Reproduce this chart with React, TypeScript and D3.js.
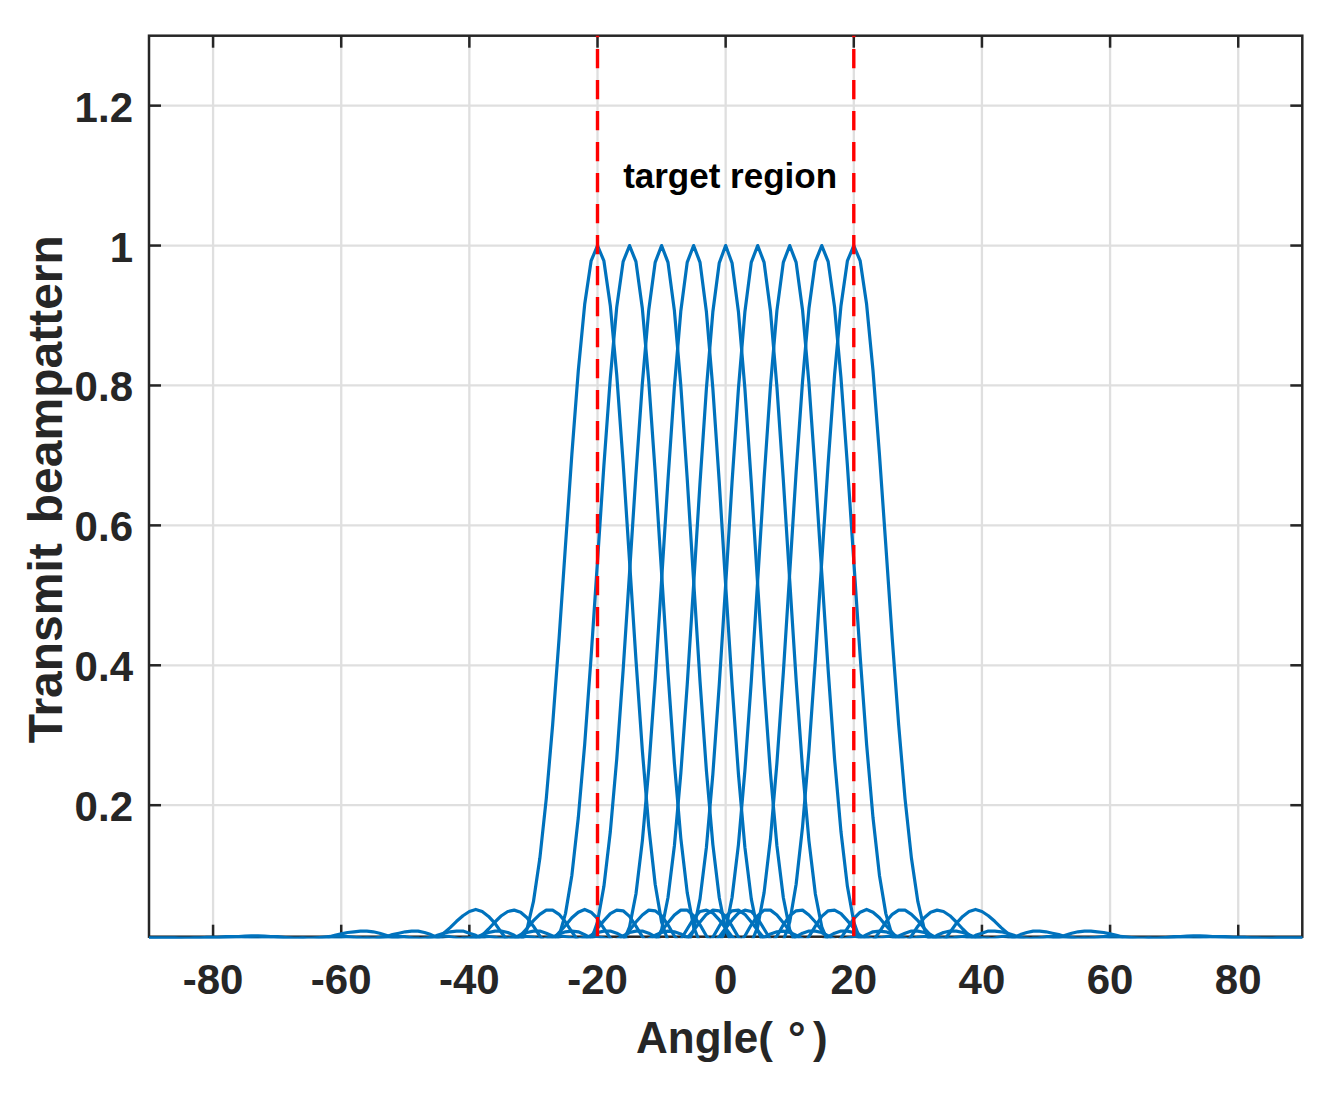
import React from "react";
import * as d3 from "d3";

// Angle grid of the sampled beampatterns (degrees)
const angles: number[] = d3.range(-90, 91, 1);

// Beam steering directions of the plotted beams
const steering = [-20, -15, -10, -5, 0, 5, 10, 15, 20];

// Beampattern values (angles -90..90) for the beams steered to 0, 5, 10, 15, 20 degrees.
const beam0 = [
  0.000, 0.000, 0.000, 0.000, 0.000, 0.000, 0.000, 0.000, 0.000, 0.000, 0.001, 0.001, 0.001, 0.002, 0.002, 0.003,
  0.003, 0.004, 0.005, 0.006, 0.007, 0.008, 0.008, 0.009, 0.010, 0.010, 0.010, 0.010, 0.010, 0.009, 0.008, 0.006,
  0.005, 0.003, 0.002, 0.001, 0.000, 0.000, 0.000, 0.001, 0.003, 0.005, 0.007, 0.009, 0.011, 0.012, 0.013, 0.012,
  0.010, 0.008, 0.005, 0.003, 0.001, 0.000, 0.001, 0.003, 0.006, 0.010, 0.015, 0.018, 0.020, 0.020, 0.017, 0.013,
  0.008, 0.003, 0.000, 0.001, 0.005, 0.013, 0.024, 0.035, 0.045, 0.050, 0.049, 0.041, 0.027, 0.012, 0.001, 0.002,
  0.022, 0.068, 0.142, 0.245, 0.372, 0.515, 0.661, 0.796, 0.905, 0.975, 1.000, 0.975, 0.905, 0.796, 0.661, 0.515,
  0.372, 0.245, 0.142, 0.068, 0.022, 0.002, 0.001, 0.012, 0.027, 0.041, 0.049, 0.050, 0.045, 0.035, 0.024, 0.013,
  0.005, 0.001, 0.000, 0.003, 0.008, 0.013, 0.017, 0.020, 0.020, 0.018, 0.015, 0.010, 0.006, 0.003, 0.001, 0.000,
  0.001, 0.003, 0.005, 0.008, 0.010, 0.012, 0.013, 0.012, 0.011, 0.009, 0.007, 0.005, 0.003, 0.001, 0.000, 0.000,
  0.000, 0.001, 0.002, 0.003, 0.005, 0.006, 0.008, 0.009, 0.010, 0.010, 0.010, 0.010, 0.010, 0.009, 0.008, 0.008,
  0.007, 0.006, 0.005, 0.004, 0.003, 0.003, 0.002, 0.002, 0.001, 0.001, 0.001, 0.000, 0.000, 0.000, 0.000, 0.000,
  0.000, 0.000, 0.000, 0.000, 0.000,
];

const beam5 = [
  0.010, 0.010, 0.010, 0.010, 0.010, 0.009, 0.009, 0.009, 0.009, 0.009, 0.008, 0.008, 0.007, 0.007, 0.006, 0.006,
  0.005, 0.004, 0.003, 0.002, 0.002, 0.001, 0.000, 0.000, 0.000, 0.000, 0.000, 0.001, 0.002, 0.003, 0.005, 0.006,
  0.007, 0.009, 0.010, 0.010, 0.010, 0.010, 0.009, 0.008, 0.006, 0.004, 0.002, 0.001, 0.000, 0.000, 0.001, 0.002,
  0.005, 0.007, 0.010, 0.011, 0.013, 0.012, 0.011, 0.009, 0.006, 0.003, 0.001, 0.000, 0.001, 0.003, 0.007, 0.011,
  0.016, 0.019, 0.020, 0.019, 0.015, 0.010, 0.005, 0.001, 0.000, 0.003, 0.010, 0.021, 0.033, 0.043, 0.050, 0.049,
  0.042, 0.029, 0.013, 0.002, 0.002, 0.021, 0.066, 0.140, 0.244, 0.372, 0.515, 0.662, 0.796, 0.905, 0.976, 1.000,
  0.976, 0.906, 0.798, 0.665, 0.521, 0.379, 0.252, 0.149, 0.073, 0.026, 0.004, 0.001, 0.010, 0.024, 0.038, 0.047,
  0.051, 0.047, 0.039, 0.028, 0.018, 0.008, 0.002, 0.000, 0.001, 0.005, 0.009, 0.014, 0.018, 0.020, 0.020, 0.018,
  0.015, 0.011, 0.007, 0.004, 0.001, 0.000, 0.000, 0.001, 0.003, 0.006, 0.008, 0.010, 0.012, 0.012, 0.013, 0.012,
  0.011, 0.009, 0.007, 0.006, 0.004, 0.002, 0.001, 0.000, 0.000, 0.000, 0.000, 0.001, 0.002, 0.003, 0.004, 0.005,
  0.006, 0.007, 0.007, 0.008, 0.009, 0.009, 0.010, 0.010, 0.010, 0.010, 0.010, 0.010, 0.010, 0.010, 0.010, 0.010,
  0.010, 0.010, 0.010, 0.010, 0.010,
];

const beam10 = [
  0.002, 0.002, 0.002, 0.002, 0.002, 0.002, 0.002, 0.003, 0.003, 0.003, 0.004, 0.004, 0.005, 0.006, 0.006, 0.007,
  0.008, 0.008, 0.009, 0.009, 0.010, 0.010, 0.010, 0.010, 0.010, 0.009, 0.008, 0.007, 0.006, 0.005, 0.003, 0.002,
  0.001, 0.000, 0.000, 0.000, 0.001, 0.002, 0.003, 0.005, 0.007, 0.008, 0.009, 0.010, 0.010, 0.009, 0.008, 0.006,
  0.004, 0.002, 0.001, 0.000, 0.000, 0.002, 0.004, 0.006, 0.009, 0.011, 0.012, 0.012, 0.011, 0.009, 0.005, 0.003,
  0.001, 0.000, 0.001, 0.005, 0.009, 0.014, 0.018, 0.020, 0.020, 0.017, 0.012, 0.006, 0.002, 0.000, 0.003, 0.010,
  0.020, 0.032, 0.043, 0.050, 0.050, 0.042, 0.029, 0.013, 0.002, 0.002, 0.022, 0.068, 0.144, 0.249, 0.377, 0.521,
  0.667, 0.800, 0.907, 0.976, 1.000, 0.976, 0.908, 0.803, 0.673, 0.532, 0.393, 0.266, 0.162, 0.084, 0.033, 0.007,
  0.000, 0.006, 0.019, 0.033, 0.044, 0.050, 0.050, 0.044, 0.035, 0.024, 0.014, 0.006, 0.002, 0.000, 0.001, 0.005,
  0.009, 0.014, 0.017, 0.020, 0.020, 0.019, 0.017, 0.014, 0.010, 0.006, 0.003, 0.001, 0.000, 0.000, 0.001, 0.002,
  0.004, 0.006, 0.008, 0.010, 0.011, 0.012, 0.013, 0.013, 0.012, 0.011, 0.010, 0.009, 0.008, 0.006, 0.005, 0.004,
  0.003, 0.002, 0.001, 0.001, 0.000, 0.000, 0.000, 0.000, 0.000, 0.000, 0.000, 0.001, 0.001, 0.001, 0.001, 0.001,
  0.001, 0.002, 0.002, 0.002, 0.002,
];

const beam15 = [
  0.008, 0.008, 0.007, 0.007, 0.007, 0.007, 0.006, 0.006, 0.006, 0.005, 0.005, 0.004, 0.003, 0.003, 0.002, 0.002,
  0.001, 0.001, 0.000, 0.000, 0.000, 0.000, 0.001, 0.001, 0.002, 0.003, 0.004, 0.005, 0.007, 0.008, 0.009, 0.010,
  0.010, 0.010, 0.010, 0.009, 0.008, 0.006, 0.005, 0.003, 0.001, 0.000, 0.000, 0.000, 0.001, 0.003, 0.004, 0.006,
  0.008, 0.010, 0.010, 0.010, 0.009, 0.007, 0.005, 0.003, 0.001, 0.000, 0.000, 0.002, 0.004, 0.007, 0.010, 0.012,
  0.013, 0.012, 0.010, 0.007, 0.004, 0.001, 0.000, 0.001, 0.004, 0.008, 0.013, 0.018, 0.020, 0.020, 0.017, 0.012,
  0.006, 0.002, 0.000, 0.003, 0.010, 0.021, 0.033, 0.044, 0.050, 0.049, 0.041, 0.027, 0.011, 0.001, 0.003, 0.026,
  0.075, 0.153, 0.260, 0.389, 0.532, 0.676, 0.806, 0.910, 0.977, 1.000, 0.977, 0.912, 0.811, 0.686, 0.549, 0.412,
  0.287, 0.182, 0.100, 0.045, 0.013, 0.001, 0.003, 0.013, 0.027, 0.039, 0.047, 0.050, 0.048, 0.042, 0.033, 0.023,
  0.014, 0.007, 0.002, 0.000, 0.001, 0.003, 0.007, 0.011, 0.015, 0.018, 0.020, 0.020, 0.019, 0.017, 0.015, 0.012,
  0.009, 0.006, 0.003, 0.002, 0.000, 0.000, 0.000, 0.001, 0.002, 0.003, 0.005, 0.006, 0.008, 0.009, 0.010, 0.011,
  0.012, 0.012, 0.013, 0.013, 0.013, 0.012, 0.012, 0.012, 0.011, 0.011, 0.010, 0.010, 0.009, 0.009, 0.009, 0.008,
  0.008, 0.008, 0.008, 0.008, 0.008,
];

const beam20 = [
  0.008, 0.008, 0.009, 0.009, 0.009, 0.009, 0.009, 0.010, 0.010, 0.011, 0.011, 0.011, 0.012, 0.012, 0.012, 0.013,
  0.013, 0.013, 0.012, 0.012, 0.011, 0.010, 0.009, 0.008, 0.007, 0.006, 0.004, 0.003, 0.002, 0.001, 0.000, 0.000,
  0.000, 0.001, 0.002, 0.004, 0.005, 0.007, 0.008, 0.009, 0.010, 0.010, 0.010, 0.008, 0.007, 0.005, 0.003, 0.001,
  0.000, 0.000, 0.001, 0.002, 0.004, 0.006, 0.008, 0.010, 0.010, 0.010, 0.009, 0.006, 0.004, 0.002, 0.000, 0.000,
  0.001, 0.003, 0.006, 0.009, 0.011, 0.013, 0.012, 0.010, 0.007, 0.004, 0.001, 0.000, 0.001, 0.004, 0.009, 0.014,
  0.018, 0.020, 0.019, 0.016, 0.011, 0.005, 0.001, 0.000, 0.004, 0.012, 0.024, 0.036, 0.046, 0.050, 0.048, 0.038,
  0.023, 0.008, 0.000, 0.006, 0.033, 0.087, 0.169, 0.278, 0.408, 0.549, 0.689, 0.815, 0.914, 0.978, 1.000, 0.978,
  0.916, 0.821, 0.702, 0.571, 0.438, 0.315, 0.209, 0.124, 0.062, 0.023, 0.004, 0.000, 0.006, 0.018, 0.031, 0.041,
  0.048, 0.051, 0.048, 0.042, 0.034, 0.025, 0.017, 0.009, 0.004, 0.001, 0.000, 0.001, 0.004, 0.007, 0.011, 0.014,
  0.017, 0.019, 0.020, 0.020, 0.019, 0.018, 0.016, 0.014, 0.011, 0.009, 0.007, 0.005, 0.003, 0.002, 0.001, 0.000,
  0.000, 0.000, 0.000, 0.001, 0.001, 0.002, 0.003, 0.003, 0.004, 0.005, 0.005, 0.006, 0.007, 0.007, 0.007, 0.008,
  0.008, 0.008, 0.008, 0.008, 0.008,
];

// Beams steered to negative angles are the mirror images of the positive ones.
const positiveBeams: Record<number, number[]> = { 0: beam0, 5: beam5, 10: beam10, 15: beam15, 20: beam20 };
function beamFor(s: number): number[] {
  return s >= 0 ? positiveBeams[s] : positiveBeams[-s].slice().reverse();
}

const xTicks = [-80, -60, -40, -20, 0, 20, 40, 60, 80];
const yTicks = [0.2, 0.4, 0.6, 0.8, 1, 1.2];
const regionEdges = [-20, 20];
const regionLabel = "target region";
const regionLabelPos = { x: -16, y: 1.1 };
const xDomain: [number, number] = [-90, 90];
const yDomain: [number, number] = [0.012, 1.3];

const W = 1340;
const H = 1094;
const L = 149;
const R = 1302.3;
const T = 35.7;
const B = 936.7;

const FONT = "'Liberation Sans', Arial, Helvetica, sans-serif";
const AX = "#262626";
const GRID = "#dfdfdf";
const BLUE = "#0072BD";

export default function App() {
  const x = d3.scaleLinear().domain(xDomain).range([L, R]);
  const y = d3.scaleLinear().domain(yDomain).range([B, T]);
  const line = d3
    .line<number>()
    .x((_, i) => x(angles[i]))
    .y((d) => y(d));
  const tick = 12;

  return (
    <svg
      width={W}
      height={H}
      viewBox={`0 0 ${W} ${H}`}
      style={{ position: "absolute", left: 0, top: 0, background: "#fff" }}
    >
      <defs>
        <clipPath id="plotClip">
          <rect x={L - 1.5} y={T - 1.5} width={R - L + 3} height={B - T + 3} />
        </clipPath>
      </defs>
      <rect x={0} y={0} width={W} height={H} fill="#fff" />

      {/* grid */}
      <g stroke={GRID} strokeWidth={2.3}>
        {xTicks.map((t) => (
          <line key={"gx" + t} x1={x(t)} x2={x(t)} y1={T} y2={B} />
        ))}
        {yTicks.map((t) => (
          <line key={"gy" + t} x1={L} x2={R} y1={y(t)} y2={y(t)} />
        ))}
      </g>

      {/* axes box and ticks */}
      <g stroke={AX} strokeWidth={2.5} fill="none">
        <rect x={L} y={T} width={R - L} height={B - T} />
        {xTicks.map((t) => (
          <g key={"tx" + t}>
            <line x1={x(t)} x2={x(t)} y1={B} y2={B - tick} />
            <line x1={x(t)} x2={x(t)} y1={T} y2={T + tick} />
          </g>
        ))}
        {yTicks.map((t) => (
          <g key={"ty" + t}>
            <line x1={L} x2={L + tick} y1={y(t)} y2={y(t)} />
            <line x1={R} x2={R - tick} y1={y(t)} y2={y(t)} />
          </g>
        ))}
      </g>

      {/* beampatterns */}
      <g clipPath="url(#plotClip)" fill="none" stroke={BLUE} strokeWidth={3.2} strokeLinejoin="round">
        {steering.map((s) => (
          <path key={"b" + s} d={line(beamFor(s)) || ""} />
        ))}
      </g>

      {/* target region boundaries */}
      <g stroke="#FF0000" strokeWidth={3.4} strokeDasharray="19.3 11.7" strokeDashoffset={17.7}>
        {regionEdges.map((e) => (
          <line key={"r" + e} x1={x(e)} x2={x(e)} y1={T} y2={B} />
        ))}
      </g>

      {/* tick labels */}
      <g fontFamily={FONT} fontWeight="bold" fontSize={42} fill={AX}>
        {xTicks.map((t) => (
          <text key={"lx" + t} x={x(t)} y={993.5} textAnchor="middle">
            {String(t)}
          </text>
        ))}
        {yTicks.map((t) => (
          <text key={"ly" + t} x={133} y={y(t) + 16} textAnchor="end">
            {String(t)}
          </text>
        ))}
      </g>

      {/* annotation */}
      <text
        x={x(regionLabelPos.x)}
        y={y(regionLabelPos.y) + 12}
        fontFamily={FONT}
        fontWeight="bold"
        fontSize={35}
        fill="#000"
      >
        {regionLabel}
      </text>

      {/* axis labels */}
      <text fontFamily={FONT} fontWeight="bold" fontSize={44} fill={AX} y={1053}>
        <tspan x={636}>Angle(</tspan>
        <tspan x={788}>°</tspan>
        <tspan x={813}>)</tspan>
      </text>
      <text
        transform={`translate(62, ${(T + B) / 2 + 3}) rotate(-90)`}
        textAnchor="middle"
        fontFamily={FONT}
        fontWeight="bold"
        fontSize={48}
        fill={AX}
      >
        <tspan>Transmit</tspan>
        <tspan dx={20}>beampattern</tspan>
      </text>
    </svg>
  );
}
